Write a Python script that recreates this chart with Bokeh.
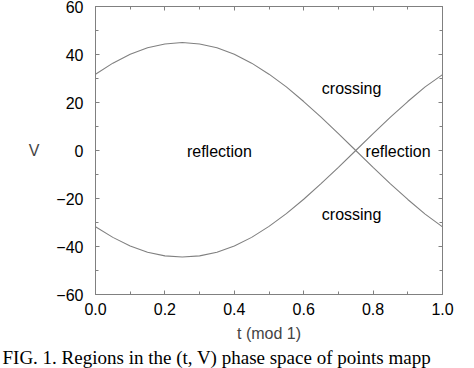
from bokeh.plotting import figure
from bokeh.models import LinearAxis, FixedTicker, Label, Title
from bokeh.embed import file_html
from bokeh.resources import INLINE

# ---- data ----
t_vals = [0.0, 0.05, 0.1, 0.15, 0.2, 0.25, 0.3, 0.35, 0.4, 0.45, 0.5,
          0.55, 0.6, 0.65, 0.7, 0.75, 0.8, 0.85, 0.9, 0.95, 1.0]
upper_v = [31.8, 36.4, 40.1, 42.8, 44.4, 45.0, 44.4, 42.8, 40.1, 36.4, 31.8,
           26.5, 20.4, 13.9, 7.0, 0.0, -7.0, -13.9, -20.4, -26.5, -31.8]
lower_v = [-31.8, -36.2, -39.8, -42.4, -43.9, -44.4, -43.9, -42.4, -39.8, -36.2, -31.6,
           -26.3, -20.3, -13.8, -7.0, 0.0, 7.0, 13.9, 20.4, 26.5, 31.6]

x_major = [0.0, 0.2, 0.4, 0.6, 0.8, 1.0]
x_minor = [0.1, 0.3, 0.5, 0.7, 0.9]
x_labels = ["0.0", "0.2", "0.4", "0.6", "0.8", "1.0"]
y_major = [-60, -40, -20, 0, 20, 40, 60]
y_minor = [-50, -30, -10, 10, 30, 50]
y_labels = ["\u221260", "\u221240", "\u221220", "0", "20", "40", "60"]

region_labels = ["reflection", "reflection", "crossing", "crossing"]
region_t = [0.357, 0.872, 0.738, 0.738]
region_v = [-0.4, -0.4, 26.0, -26.6]

caption_text = "FIG. 1.  Regions in the (t, V) phase space of points mapp"

GRAY = "#808080"
FONT = "Liberation Sans"

p = figure(width=474, height=368, x_range=(0, 1), y_range=(-60, 60),
           output_backend="svg", toolbar_location=None,
           min_border_left=95, min_border_right=32,
           min_border_top=6, min_border_bottom=0)
p.grid.visible = False
p.outline_line_color = GRAY
p.background_fill_color = "white"
p.border_fill_color = "white"

p.line(t_vals, upper_v, line_color=GRAY, line_width=1.1)
p.line(t_vals, lower_v, line_color=GRAY, line_width=1.1)


def style_axis(ax, major, minor, labels, show_labels=True):
    ax.ticker = FixedTicker(ticks=major, minor_ticks=minor)
    ax.axis_line_color = GRAY
    ax.major_tick_line_color = GRAY
    ax.minor_tick_line_color = GRAY
    ax.major_tick_in = 4
    ax.major_tick_out = 0
    ax.minor_tick_in = 3
    ax.minor_tick_out = 0
    if show_labels:
        ax.major_label_overrides = {m: l for m, l in zip(major, labels)}
        ax.major_label_text_font = FONT
        ax.major_label_text_font_size = "16px"
        ax.major_label_text_color = "black"
    else:
        ax.major_label_overrides = {m: "" for m in major}
        ax.major_label_text_font_size = "0px"
        ax.major_label_standoff = 0


caption = Title(text=caption_text, align="left", text_font="Liberation Serif",
                text_font_size="19px", text_font_style="normal",
                text_color="black", offset=-93, standoff=1)
p.add_layout(caption, "below")

xa = p.xaxis[0]
style_axis(xa, x_major, x_minor, x_labels)
xa.major_label_standoff = 8
xa.axis_label = "t (mod 1)"
xa.axis_label_text_font = FONT
xa.axis_label_text_font_size = "16px"
xa.axis_label_text_font_style = "normal"
xa.axis_label_standoff = 7

ya = p.yaxis[0]
style_axis(ya, y_major, y_minor, y_labels)
ya.major_label_standoff = 12
ya.axis_label = "V"
ya.axis_label_orientation = "horizontal"
ya.axis_label_text_font = FONT
ya.axis_label_text_font_size = "16px"
ya.axis_label_text_font_style = "normal"
ya.axis_label_standoff = 14

top_ax = LinearAxis()
style_axis(top_ax, x_major, x_minor, x_labels, show_labels=False)
p.add_layout(top_ax, "above")
right_ax = LinearAxis()
style_axis(right_ax, y_major, y_minor, y_labels, show_labels=False)
p.add_layout(right_ax, "right")

for txt, tx, vy in zip(region_labels, region_t, region_v):
    p.add_layout(Label(x=tx, y=vy, text=txt, text_align="center",
                       text_baseline="alphabetic", text_font=FONT,
                       text_font_size="16px", text_color="black"))

open("out.html", "w").write(file_html(p, INLINE))
